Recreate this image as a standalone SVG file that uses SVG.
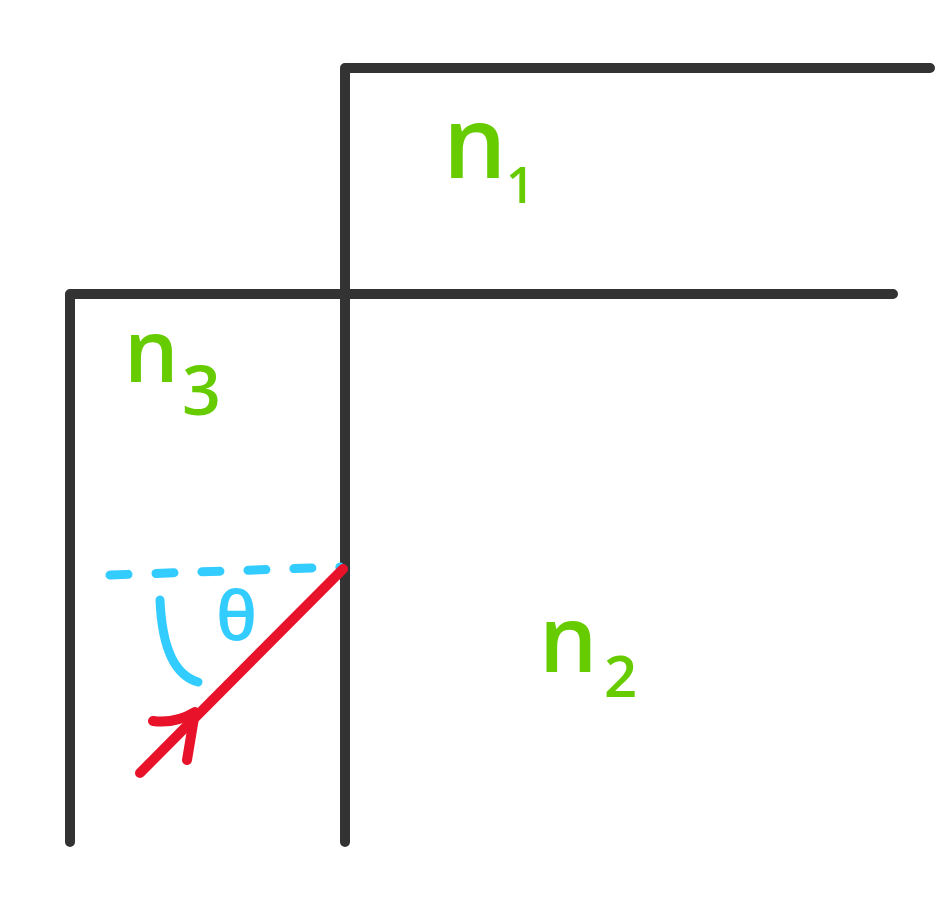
<svg xmlns="http://www.w3.org/2000/svg" width="945" height="909" viewBox="0 0 945 909">
<style>
.wall{stroke:#333333;stroke-width:10;stroke-linecap:round;stroke-linejoin:round;fill:none}
.ray{stroke:#e8132a;stroke-width:10;stroke-linecap:round;stroke-linejoin:round;fill:none}
.cyan{stroke:#33ccff;stroke-width:9;stroke-linecap:round;fill:none}
.lbl{font-family:"Open Sans","Liberation Sans",sans-serif;fill:#66cc00;font-weight:600}
.th{font-family:"Open Sans","Liberation Sans",sans-serif;fill:#33ccff;font-weight:600}
</style>
<rect width="945" height="909" fill="#ffffff"/>
<g id="walls">
<path class="wall" d="M345,842 L345,68 L930,68"/>
<path class="wall" d="M70,842 L70,294 L893,294"/>
</g>
<g id="normal">
<path class="cyan" d="M110,575 L340,567" stroke-dasharray="18,28"/>
<path class="cyan" d="M160,600 Q163,672 198,682"/>
<text class="th" x="216" y="640" font-size="68">θ</text>
</g>
<g id="ray">
<path class="ray" d="M140,773 L343,569"/>
<path class="ray" d="M153,721 Q175,724 195,712 L187,760"/>
</g>
<g id="labels">
<text class="lbl" x="443" y="178" font-size="100">n</text>
<text class="lbl" x="506" y="203" font-size="50">1</text>
<text class="lbl" x="124" y="382" font-size="86">n</text>
<text class="lbl" x="182" y="415" font-size="68">3</text>
<text class="lbl" x="539" y="672" font-size="92">n</text>
<text class="lbl" x="604" y="697" font-size="58">2</text>
</g>
</svg>
